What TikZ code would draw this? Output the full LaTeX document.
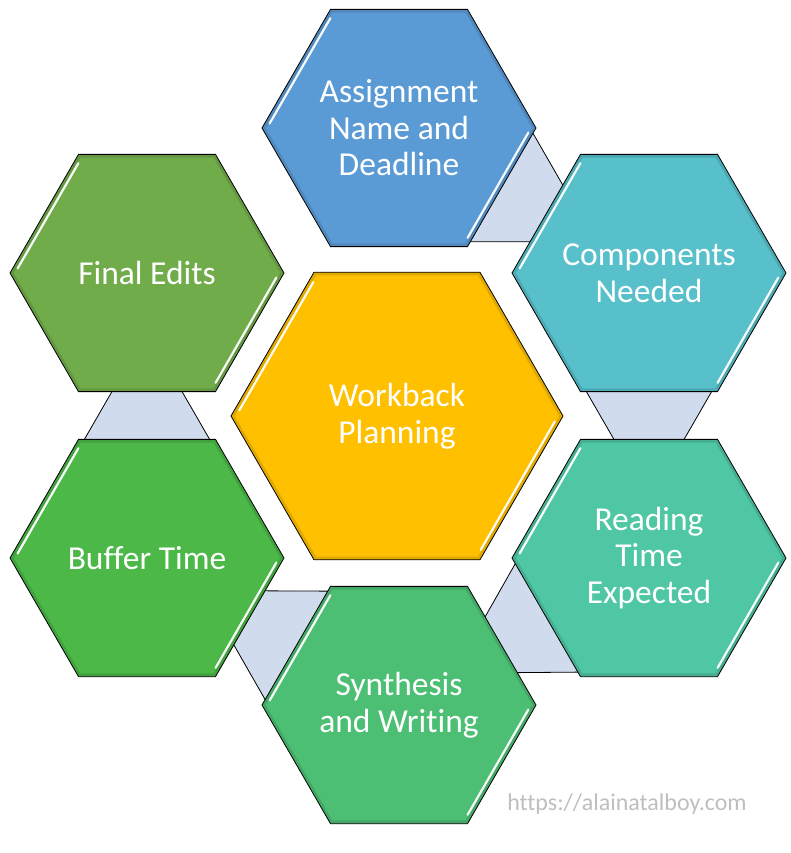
\documentclass[tikz,border=0pt]{standalone}
\usepackage{fontspec}
\setmainfont{Carlito}[Ligatures={NoCommon}]
\usetikzlibrary{calc}
\pgfdeclarelayer{bg}
\pgfdeclarelayer{hex}
\pgfsetlayers{bg,hex,main}
\definecolor{cAssign}{HTML}{5B9BD5}
\definecolor{cComp}{HTML}{57C0CB}
\definecolor{cRead}{HTML}{50C7A4}
\definecolor{cSynth}{HTML}{4DBF74}
\definecolor{cBuff}{HTML}{4CB848}
\definecolor{cFinal}{HTML}{71AC4B}
\definecolor{cCenter}{HTML}{FFC000}
\definecolor{cLink}{HTML}{D0DBEE}
\definecolor{cMark}{HTML}{BFBFBF}
\tikzset{
  hexborder/.style={draw=black, line width=0.8pt, line join=miter},
  hexshade/.style={line width=3pt, opacity=0.3},
  hilite/.style={draw=white, line width=2.2pt, line cap=round, opacity=0.95},
  hextext/.style={text=white, align=center, inner sep=0pt, font=\fontsize{33.5}{36.5}\selectfont},
  linkstyle/.style={fill=cLink, draw=black, line width=0.8pt, line join=round},
  marktext/.style={text=cMark, inner sep=0pt, font=\fontsize{24}{28}\selectfont},
}
\newcommand\hexcell[6]{%
  \node[hextext] (#1) at (#2,#3) {#6};
  \begin{pgfonlayer}{hex}
  \begin{scope}[shift={(#2,#3)}]
    \pgfmathsetmacro\hexRa{#4-2}
    \pgfmathsetmacro\hexRb{#4-5}
    \fill[#5] (0:#4) -- (60:#4) -- (120:#4) -- (180:#4) -- (240:#4) -- (300:#4) -- cycle;
    \draw[hexshade, draw=#5!60!black] (0:\hexRa) -- (60:\hexRa) -- (120:\hexRa) -- (180:\hexRa) -- (240:\hexRa) -- (300:\hexRa) -- cycle;
    \draw[hilite] ($(180:\hexRb)!0.04!(240:\hexRb)$) -- ($(180:\hexRb)!0.96!(240:\hexRb)$);
    \draw[hilite] ($(0:\hexRb)!0.04!(60:\hexRb)$) -- ($(0:\hexRb)!0.96!(60:\hexRb)$);
    \draw[hexborder] (0:#4) -- (60:#4) -- (120:#4) -- (180:#4) -- (240:#4) -- (300:#4) -- cycle;
  \end{scope}
  \end{pgfonlayer}
}
\newcommand\hexlink[2]{%
  \begin{pgfonlayer}{bg}
  \filldraw[linkstyle] ($(#1.center)!124pt!36.3:(#2.center)$) -- ($(#1.center)!200.6pt!4.49:(#2.center)$) -- ($(#1.center)!200.6pt!-4.49:(#2.center)$) -- ($(#1.center)!124pt!-36.3:(#2.center)$) -- cycle;
  \end{pgfonlayer}
}
\begin{document}
\begin{tikzpicture}[x=1pt, y=-1pt]
  \begin{pgfonlayer}{bg}
    \fill[white] (0,0) rectangle (790,853);
  \end{pgfonlayer}
  \useasboundingbox (0,0) rectangle (790,853);
  \hexcell{assign}{399}{128}{137}{cAssign}{Assignment\\Name and\\Deadline}
  \hexcell{comp}{649}{273}{137}{cComp}{Components\\Needed}
  \hexcell{read}{649}{558}{137}{cRead}{Reading\\Time\\Expected}
  \hexcell{synth}{399}{705}{137}{cSynth}{Synthesis\\and Writing}
  \hexcell{buff}{147}{558}{137}{cBuff}{Buffer Time}
  \hexcell{final}{147}{273}{137}{cFinal}{Final Edits}
  \hexcell{center}{397}{416}{166}{cCenter}{Workback\\Planning}
  \hexlink{assign}{comp}
  \hexlink{comp}{read}
  \hexlink{read}{synth}
  \hexlink{synth}{buff}
  \hexlink{buff}{final}
  \node[marktext, anchor=base] (mark) at (627,810) {https://alainatalboy.com};
\end{tikzpicture}
\end{document}
